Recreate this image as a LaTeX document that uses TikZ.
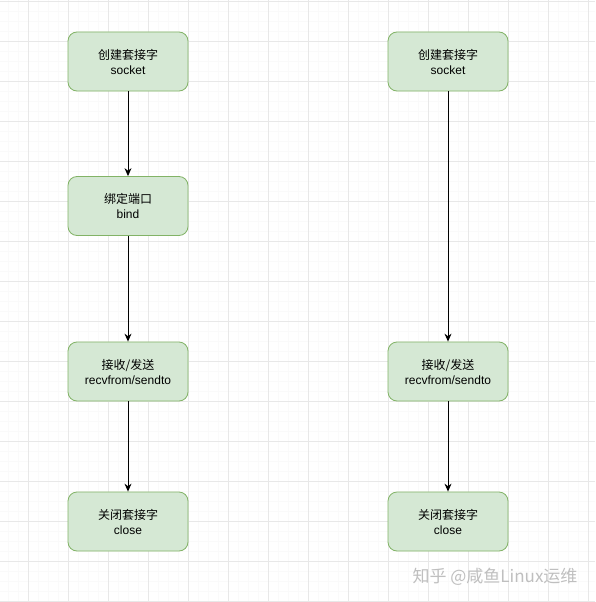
\documentclass[tikz,border=0pt]{standalone}
\usepackage{fontspec}
\setmainfont{Liberation Sans}
\newfontfamily\cjk{Noto Sans CJK SC}
\usepackage{tikz}
\usetikzlibrary{arrows.meta,positioning}
\definecolor{stepfill}{HTML}{D5E8D4}
\definecolor{stepline}{HTML}{82B366}
\tikzset{
    grid minor/.style={line width=0.6pt, color=black!2},
    grid major/.style={line width=0.8pt, color=black!9},
    stepbox/.style={draw=stepline, fill=stepfill, line width=0.8pt, rounded corners=9pt,
        minimum width=120pt, minimum height=59pt, inner sep=0pt, align=center,
        font=\fontsize{12}{15}\selectfont},
    arr/.style={-{Stealth[length=8pt,width=7pt]}, line width=0.9pt, black},
    watermark/.style={text=black!25, font=\cjk\fontsize{17}{17}\selectfont},
}

\begin{document}
\begin{tikzpicture}[x=1pt,y=-1pt]
    \useasboundingbox (0,0) rectangle (595,602);
    \fill[white] (0,0) rectangle (595,602);

    % background grid
    \foreach \x in {8,18,...,595} \draw[grid minor] (\x,0) -- (\x,602);
    \foreach \y in {1,11,...,602} \draw[grid minor] (0,\y) -- (595,\y);
    \foreach \x in {28,68,...,595} \draw[grid major] (\x,0) -- (\x,602);
    \foreach \y in {1,41,...,602} \draw[grid major] (0,\y) -- (595,\y);

    % left column
    \node[stepbox] (lsock)  at (128,61.5)  {{\cjk 创建套接字}\\socket};
    \node[stepbox] (lbind)  at (128,206)   {{\cjk 绑定端口}\\bind};
    \node[stepbox] (lrecv)  at (128,371.5) {{\cjk 接收/发送}\\recvfrom/sendto};
    \node[stepbox] (lclose) at (128,521.5) {{\cjk 关闭套接字}\\close};

    \draw[arr] (lsock) -- (lbind);
    \draw[arr] (lbind) -- (lrecv);
    \draw[arr] (lrecv) -- (lclose);

    % right column
    \node[stepbox] (rsock)  at (448,61.5)  {{\cjk 创建套接字}\\socket};
    \node[stepbox] (rrecv)  at (448,371.5) {{\cjk 接收/发送}\\recvfrom/sendto};
    \node[stepbox] (rclose) at (448,521.5) {{\cjk 关闭套接字}\\close};

    \draw[arr] (rsock) -- (rrecv);
    \draw[arr] (rrecv) -- (rclose);

    \node[watermark] (mark) at (495,577) {知乎 @咸鱼Linux运维};
\end{tikzpicture}
\end{document}
